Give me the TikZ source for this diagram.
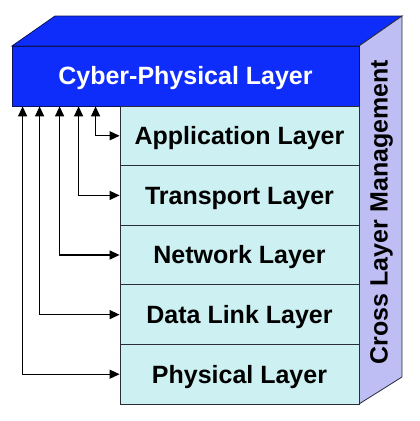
\documentclass[tikz,border=0pt]{standalone}
\usepackage{fontspec}
\setmainfont{Liberation Sans}
\usetikzlibrary{arrows.meta,calc}
\definecolor{cpblue}{RGB}{15,45,250}
\definecolor{cpedge}{RGB}{10,20,90}
\definecolor{laycyan}{RGB}{205,240,242}
\definecolor{laveface}{RGB}{190,190,245}
\definecolor{lineg}{RGB}{40,45,55}
\tikzset{
  txt/.style={font=\fontsize{25}{29}\selectfont\bfseries},
  layerbox/.style={draw=lineg, line width=0.8pt, fill=laycyan, minimum width=239pt, minimum height=59.6pt, inner sep=0pt, text height=17.9pt, text depth=0pt, txt},
  link/.style={draw=black, line width=1.3pt, {Triangle[length=10pt,width=9pt]}-{Triangle[length=10pt,width=9pt]}},
}
\begin{document}
\begin{tikzpicture}[x=1pt,y=-1pt]
\useasboundingbox (0,0) rectangle (420,421);
% top face
\fill[cpblue, draw=cpedge, line width=0.8pt] (12,46) -- (55,16) -- (402,16) -- (359,46) -- cycle;
% right face
\fill[laveface, draw=lineg, line width=0.8pt] (359,46) -- (402,16) -- (402,377) -- (359,404) -- cycle;
\node[txt, rotate=90, anchor=base] (clm) at (387.5,212) {Cross Layer Management};
% front cyber-physical
\node[draw=cpedge, line width=0.8pt, fill=cpblue, minimum width=347pt, minimum height=60pt, inner sep=0pt, text height=17.9pt, text depth=0pt, txt, text=white] (cp) at (185.5,76) {Cyber-Physical Layer};
% layers
\node[layerbox] (app) at (239.5,135.8) {Application Layer};
\node[layerbox] (tra) at (239.5,195.4) {Transport Layer};
\node[layerbox] (net) at (239.5,255.0) {Network Layer};
\node[layerbox] (dll) at (239.5,314.6) {Data Link Layer};
\node[layerbox] (phy) at (239.5,374.2) {Physical Layer};
% links
\draw[link] ($(cp.south west)+(84,0)$) |- (app.west);
\draw[link] ($(cp.south west)+(67,0)$) |- (tra.west);
\draw[link] ($(cp.south west)+(48,0)$) |- (net.west);
\draw[link] ($(cp.south west)+(28,0)$) |- (dll.west);
\draw[link] ($(cp.south west)+(11,0)$) |- (phy.west);
\end{tikzpicture}
\end{document}
